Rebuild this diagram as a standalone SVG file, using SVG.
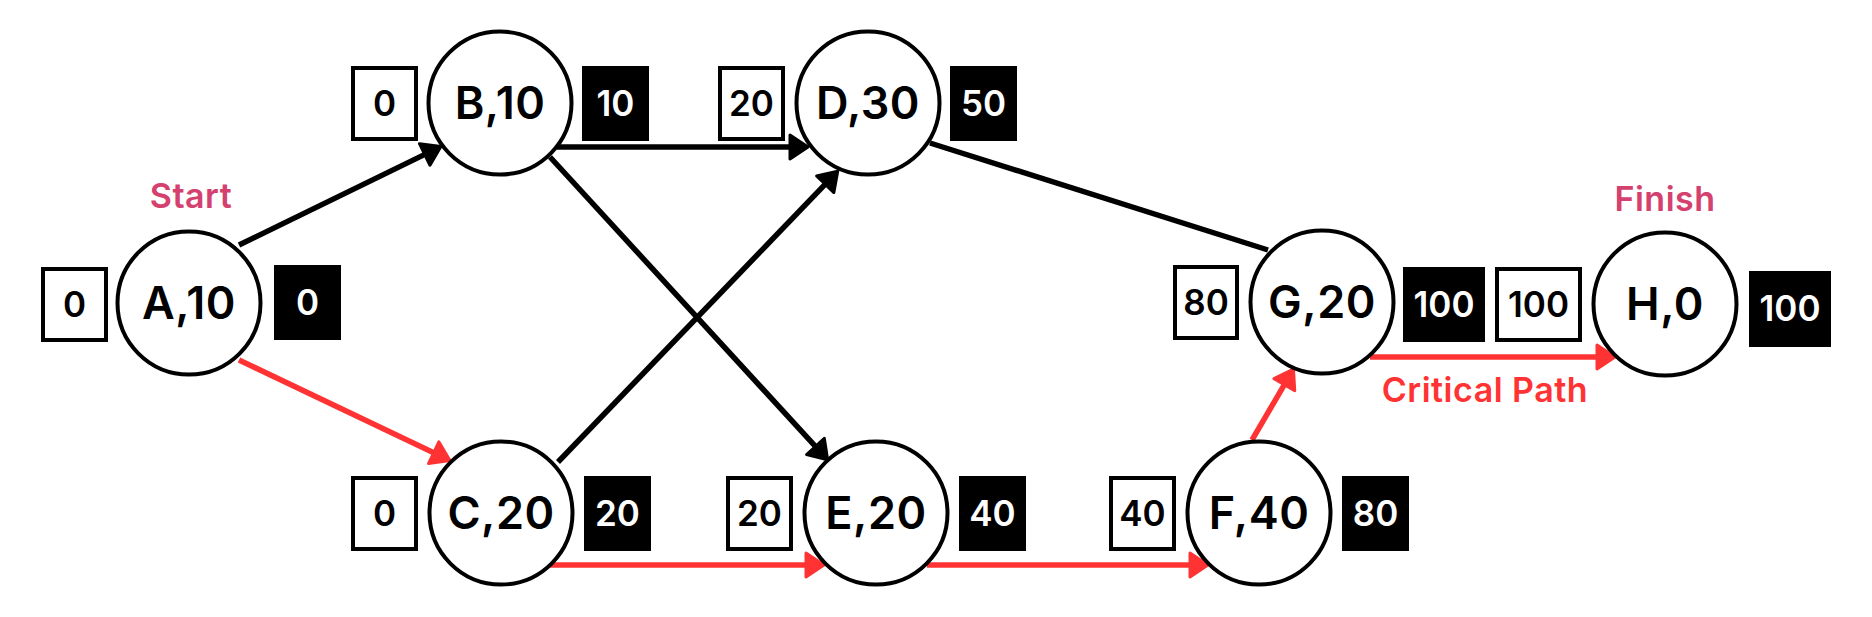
<svg xmlns="http://www.w3.org/2000/svg" width="1872" height="617" viewBox="0 0 1872 617">
<style>
  .node circle { fill: #ffffff; stroke: #000000; stroke-width: 4; }
  .lbl { font-family: Inter, "Noto Sans", "Liberation Sans", sans-serif; font-size: 45px; font-weight: 600; fill: #000; text-anchor: middle; letter-spacing: 0.5px; }
  .wb { fill: #ffffff; stroke: #000000; stroke-width: 4; }
  .bb { fill: #000000; }
  .num { font-family: Inter, "Noto Sans", "Liberation Sans", sans-serif; font-size: 35px; font-weight: 600; text-anchor: middle; }
  .num.w { fill: #ffffff; }
  .num.k { fill: #000000; }
  .blk { stroke: #000000; stroke-width: 5.5; fill: none; }
  .red { stroke: #ff3333; stroke-width: 5.5; fill: none; }
  .note { font-family: Inter, "Noto Sans", "Liberation Sans", sans-serif; font-size: 34px; font-weight: 600; text-anchor: middle; letter-spacing: 0.5px; }
</style>
<defs>
  <marker id="ahK" markerUnits="userSpaceOnUse" viewBox="0 0 22 28" refX="9" refY="14" markerWidth="22" markerHeight="28" orient="auto">
    <path d="M2,2 L20,14 L2,26 Z" fill="#000" stroke="#000" stroke-width="3" stroke-linejoin="round"/>
  </marker>
  <marker id="ahR" markerUnits="userSpaceOnUse" viewBox="0 0 22 28" refX="9" refY="14" markerWidth="22" markerHeight="28" orient="auto">
    <path d="M2,2 L20,14 L2,26 Z" fill="#ff3333" stroke="#ff3333" stroke-width="3" stroke-linejoin="round"/>
  </marker>
</defs>
<rect x="0" y="0" width="1872" height="617" fill="#ffffff"/>

<g id="connectors">
  <line class="blk" x1="239" y1="245" x2="431" y2="151.4" marker-end="url(#ahK)"/>
  <line class="red" x1="239" y1="360" x2="440" y2="455.7" marker-end="url(#ahR)"/>
  <line class="blk" x1="557" y1="147" x2="797" y2="147" marker-end="url(#ahK)"/>
  <line class="blk" x1="550" y1="157" x2="820.2" y2="451.6" marker-end="url(#ahK)"/>
  <line class="blk" x1="558" y1="462" x2="830.1" y2="179.2" marker-end="url(#ahK)"/>
  <line class="red" x1="550" y1="565" x2="813" y2="565" marker-end="url(#ahR)"/>
  <line class="blk" x1="930" y1="143" x2="1268" y2="250"/>
  <line class="red" x1="927" y1="565" x2="1197" y2="565" marker-end="url(#ahR)"/>
  <line class="red" x1="1252" y1="440" x2="1287.9" y2="378.6" marker-end="url(#ahR)"/>
  <line class="red" x1="1370" y1="357" x2="1604" y2="357" marker-end="url(#ahR)"/>
</g>

<g id="node-A" class="node">
  <rect class="wb" x="43" y="269" width="63" height="71"/>
  <text class="num k" x="74.5" y="317">0</text>
  <circle cx="189" cy="303" r="71.5"/>
  <text class="lbl" x="189" y="319">A,10</text>
  <rect class="bb" x="274" y="265" width="67" height="75"/>
  <text class="num w" x="307.5" y="315">0</text>
</g>

<g id="node-B" class="node">
  <rect class="wb" x="353" y="68" width="63" height="71"/>
  <text class="num k" x="384.5" y="116">0</text>
  <circle cx="500" cy="103" r="71.5"/>
  <text class="lbl" x="500" y="119">B,10</text>
  <rect class="bb" x="582" y="66" width="67" height="75"/>
  <text class="num w" x="615.5" y="116">10</text>
</g>

<g id="node-C" class="node">
  <rect class="wb" x="353" y="478" width="63" height="71"/>
  <text class="num k" x="384.5" y="526">0</text>
  <circle cx="501" cy="513" r="71.5"/>
  <text class="lbl" x="501" y="529">C,20</text>
  <rect class="bb" x="584" y="476" width="67" height="75"/>
  <text class="num w" x="617.5" y="526">20</text>
</g>

<g id="node-D" class="node">
  <rect class="wb" x="720" y="68" width="63" height="71"/>
  <text class="num k" x="751.5" y="116">20</text>
  <circle cx="868" cy="103" r="71.5"/>
  <text class="lbl" x="868" y="119">D,30</text>
  <rect class="bb" x="950" y="66" width="67" height="75"/>
  <text class="num w" x="983.5" y="116">50</text>
</g>

<g id="node-E" class="node">
  <rect class="wb" x="728" y="478" width="63" height="71"/>
  <text class="num k" x="759.5" y="526">20</text>
  <circle cx="876" cy="513" r="71.5"/>
  <text class="lbl" x="876" y="529">E,20</text>
  <rect class="bb" x="959" y="476" width="67" height="75"/>
  <text class="num w" x="992.5" y="526">40</text>
</g>

<g id="node-F" class="node">
  <rect class="wb" x="1111" y="478" width="63" height="71"/>
  <text class="num k" x="1142.5" y="526">40</text>
  <circle cx="1259" cy="513" r="71.5"/>
  <text class="lbl" x="1259" y="529">F,40</text>
  <rect class="bb" x="1342" y="476" width="67" height="75"/>
  <text class="num w" x="1375.5" y="526">80</text>
</g>

<g id="node-G" class="node">
  <rect class="wb" x="1175" y="267" width="62" height="71"/>
  <text class="num k" x="1206" y="315">80</text>
  <circle cx="1322" cy="302" r="71.5"/>
  <text class="lbl" x="1322" y="318">G,20</text>
  <rect class="bb" x="1403" y="267" width="82" height="75"/>
  <text class="num w" x="1444" y="317">100</text>
</g>

<g id="node-H" class="node">
  <rect class="wb" x="1497" y="269" width="83" height="71"/>
  <text class="num k" x="1538.5" y="317">100</text>
  <circle cx="1665" cy="304" r="71.5"/>
  <text class="lbl" x="1665" y="320">H,0</text>
  <rect class="bb" x="1749" y="271" width="82" height="76"/>
  <text class="num w" x="1790" y="321">100</text>
</g>

<g id="labels">
  <text class="note" x="191" y="208" fill="#d4416f">Start</text>
  <text class="note" x="1665" y="211" fill="#d4416f">Finish</text>
  <text class="note" x="1485" y="402" fill="#ff3333">Critical Path</text>
</g>
</svg>
